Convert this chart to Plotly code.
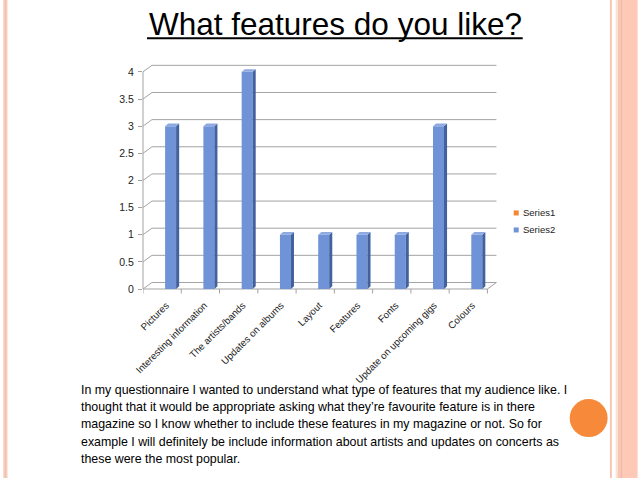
import plotly.graph_objects as go

# ---------------- data ----------------
categories = ["Pictures", "Interesting information", "The artists/bands", "Updates on albums",
              "Layout", "Features", "Fonts", "Update on upcoming gigs", "Colours"]
series1 = [0, 0, 0, 0, 0, 0, 0, 0, 0]
series2 = [3, 3, 4, 1, 1, 1, 1, 3, 1]
y_ticks = [0, 0.5, 1, 1.5, 2, 2.5, 3, 3.5, 4]
y_tick_text = ["0", "0.5", "1", "1.5", "2", "2.5", "3", "3.5", "4"]
series_names = ["Series1", "Series2"]
title_text = "What features do you like?"
body_lines = [
    "In my questionnaire I wanted to understand what type of features that my audience like. I",
    "thought that it would be appropriate asking what they\u2019re favourite feature is in there",
    "magazine so I know whether to include these features in my magazine or not. So for",
    "example I will definitely be include information about artists and updates on concerts as",
    "these were the most popular.",
]

# ---------------- geometry ----------------
W, H = 638, 478
ML, MT, MB = 143.0, 61.15, 189.0
X_RANGE = [-0.5, 8.75]
Y_RANGE = [0, 4.2]
PX_PER_X = 38.3
plotW = (X_RANGE[1] - X_RANGE[0]) * PX_PER_X
MR = W - ML - plotW
plotH = H - MT - MB


def px(xpix):
    return (xpix - ML) / plotW


def py(ypix):
    return (H - MB - ypix) / plotH


n = len(categories)
idx = list(range(n))
DX, DY = 0.235, 0.12          # back wall depth offset (data units)
BOFF, BW = 0.078, 0.287       # bar front face offset & width
BDX, BDY = 0.08, 0.05         # bar depth

FRONT = "#6F93D6"
SIDE = "#42629F"
TOP = "#8FAAE0"
ORANGE = "#F58634"
GRID = "#A3A3A3"
FONT = "Liberation Sans, Arial"

fig = go.Figure()

fig.add_trace(go.Bar(x=idx, y=series1, name=series_names[0], offset=-BW - 0.02, width=BW,
                     marker=dict(color=ORANGE, line=dict(width=0)), showlegend=False, hoverinfo="skip"))
fig.add_trace(go.Bar(x=idx, y=series2, name=series_names[1], offset=BOFF, width=BW,
                     marker=dict(color=FRONT, line=dict(width=0)), showlegend=False))

# 3D faces computed from the data
side_x, side_y, top_x, top_y = [], [], [], []
for i, v in zip(idx, series2):
    x0 = i + BOFF
    x1 = x0 + BW
    side_x += [x1, x1 + BDX, x1 + BDX, x1, x1, None]
    side_y += [0, BDY, v + BDY, v, 0, None]
    top_x += [x0, x0 + BDX, x1 + BDX, x1, x0, None]
    top_y += [v, v + BDY, v + BDY, v, v, None]
fig.add_trace(go.Scatter(x=side_x, y=side_y, mode="lines", fill="toself", fillcolor=SIDE,
                         line=dict(width=0), hoverinfo="skip", showlegend=False))
fig.add_trace(go.Scatter(x=top_x, y=top_y, mode="lines", fill="toself", fillcolor=TOP,
                         line=dict(width=0), hoverinfo="skip", showlegend=False))

shapes = []
# back wall gridlines (with left wall diagonal)
for v in y_ticks:
    shapes.append(dict(type="path", xref="x", yref="y", layer="below",
                       path=f"M{X_RANGE[0]},{v} L{X_RANGE[0] + DX},{v + DY} L{n - 0.5 + DX},{v + DY}",
                       line=dict(color=GRID, width=1)))
# floor front edge & right diagonal
shapes.append(dict(type="line", xref="x", yref="paper", x0=-0.5, x1=n - 0.5, y0=0, y1=0,
                   line=dict(color=GRID, width=1), layer="below"))
shapes.append(dict(type="line", xref="x", yref="y", x0=n - 0.5, x1=n - 0.5 + DX, y0=0, y1=DY,
                   line=dict(color=GRID, width=1), layer="below"))
# x ticks at category boundaries
for i in range(n + 1):
    shapes.append(dict(type="line", xref="x", yref="paper", x0=i - 0.5, x1=i - 0.5,
                       y0=0, y1=py(293.5), line=dict(color=GRID, width=1)))
# y axis line
shapes.append(dict(type="line", xref="paper", yref="y", x0=0, x1=0, y0=0, y1=4,
                   line=dict(color=GRID, width=1)))

# title underline
shapes.append(dict(type="line", xref="paper", yref="paper", x0=px(147), x1=px(523),
                   y0=py(38.5), y1=py(38.5), line=dict(color="black", width=2)))
# legend squares
for yy, col in [(213, ORANGE), (230, FRONT)]:
    shapes.append(dict(type="rect", xref="paper", yref="paper", x0=px(514), x1=px(519),
                       y0=py(yy - 2.5), y1=py(yy + 2.5), fillcolor=col, line=dict(width=0)))
# orange circle
shapes.append(dict(type="circle", xref="paper", yref="paper", x0=px(570), x1=px(608),
                   y0=py(437), y1=py(399), fillcolor="#F6893A", line=dict(width=0)))


# slide border stripes
def vrect(x0, x1, col):
    shapes.append(dict(type="rect", xref="paper", yref="paper", x0=px(x0), x1=px(x1),
                       y0=py(H), y1=py(0), fillcolor=col, line=dict(width=0), layer="below"))


vrect(3, 7.5, "#F9D8C9")
vrect(4.3, 6.3, "#F4BFAD")
vrect(610.3, 612.2, "#F4C4B4")
vrect(616, 618, "#FBE2D6")
vrect(618, 622, "#F8C6B5")
vrect(621.7, 623, "#EFA68F")
vrect(623, 638, "#FEC9B7")

annotations = [
    dict(text=title_text, xref="paper", yref="paper", x=px(335.5), y=py(24.5),
         xanchor="center", yanchor="middle", showarrow=False,
         font=dict(family=FONT, size=31.5, color="black")),
]
for k, line in enumerate(body_lines):
    annotations.append(dict(text=line, xref="paper", yref="paper", x=px(79), y=py(389.5 + 17.3 * k),
                            xanchor="left", yanchor="middle", align="left", showarrow=False,
                            font=dict(family=FONT, size=12.4, color="black")))
for yy, name in [(213, series_names[0]), (230, series_names[1])]:
    annotations.append(dict(text=name, xref="paper", yref="paper", x=px(521), y=py(yy),
                            xanchor="left", yanchor="middle", showarrow=False,
                            font=dict(family=FONT, size=9.5, color="#222")))

fig.update_layout(
    width=W, height=H,
    margin=dict(l=ML, r=MR, t=MT, b=MB, pad=0),
    paper_bgcolor="white", plot_bgcolor="rgba(0,0,0,0)",
    showlegend=False,
    barmode="overlay",
    shapes=shapes,
    annotations=annotations,
    font=dict(family=FONT, color="#222"),
    xaxis=dict(range=X_RANGE, tickmode="array", tickvals=idx, ticktext=categories,
               tickangle=-45, showgrid=False, zeroline=False, showline=False,
               ticks="outside", ticklen=5, tickcolor="rgba(0,0,0,0)",
               ticklabelshift=4, ticklabelstandoff=1,
               tickfont=dict(size=9.7, color="#222"), automargin=False, fixedrange=True),
    yaxis=dict(range=Y_RANGE, tickmode="array", tickvals=y_ticks, ticktext=y_tick_text,
               showgrid=False, zeroline=False, showline=False,
               ticks="outside", ticklen=4, tickcolor=GRID, ticklabelstandoff=2,
               tickfont=dict(size=10.5, color="#222"), automargin=False, fixedrange=True),
)

fig.write_html("out.html", config={"displayModeBar": False},
               post_script="document.body.style.margin='0';document.body.style.overflow='hidden';")
